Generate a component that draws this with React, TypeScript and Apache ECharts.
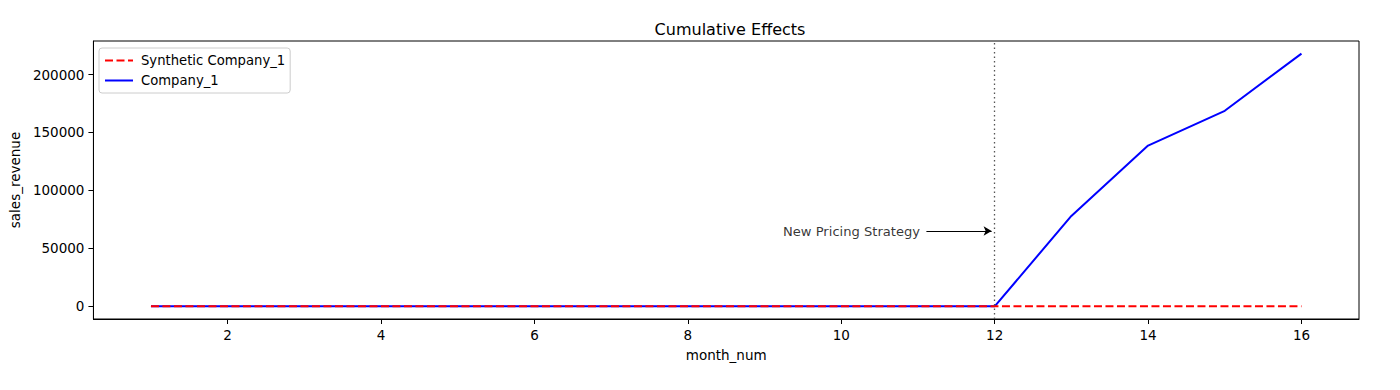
import React, { useEffect, useRef } from "react";
import * as echarts from "echarts";

const months = [1, 2, 3, 4, 5, 6, 7, 8, 9, 10, 11, 12, 13, 14, 15, 16];
const company1 = [0, 0, 0, 0, 0, 0, 0, 0, 0, 0, 0, 0, 78000, 138700, 168700, 218000];
const synthetic = [0, 0, 0, 0, 0, 0, 0, 0, 0, 0, 0, 0, 0, 0, 0, 0];
const xTicks = [2, 4, 6, 8, 10, 12, 14, 16];
const yTicks = [0, 50000, 100000, 150000, 200000];
const interventionMonth = 12;
const annotationText = "New Pricing Strategy";
const annotationPoint = [9.24, 65000];
const arrowFrom = [11.11, 65000];
const arrowTo = [11.96, 65000];

const FONT = "DejaVu Sans";

export default function App() {
  const ref = useRef<HTMLDivElement>(null);
  useEffect(() => {
    const chart = echarts.init(ref.current!, undefined, { renderer: "svg" });
    chart.setOption({
      animation: false,
      backgroundColor: "#fff",
      textStyle: { fontFamily: FONT },
      title: {
        text: "Cumulative Effects",
        left: 725,
        textAlign: "center",
        top: 16,
        textStyle: { fontFamily: FONT, fontSize: 16, fontWeight: "normal", color: "#000" },
      },
      legend: {
        left: 99,
        top: 48,
        orient: "vertical",
        data: ["Synthetic Company_1", "Company_1"],
        itemWidth: 28,
        itemHeight: 10,
        itemGap: 7,
        padding: [6, 5, 6, 5],
        borderColor: "#cccccc",
        borderWidth: 1,
        borderRadius: 3,
        itemStyle: { opacity: 0 },
        textStyle: { fontFamily: FONT, fontSize: 13.2, color: "#000", padding: [0, 0, 0, 3] },
      },
      grid: {
        left: 92,
        top: 41,
        width: 1267,
        height: 278,
        show: true,
        borderColor: "#000",
        borderWidth: 1,
        containLabel: false,
      },
      xAxis: {
        type: "value",
        min: 0.25,
        max: 16.75,
        name: "month_num",
        nameLocation: "middle",
        nameGap: 29,
        nameTextStyle: { fontFamily: FONT, fontSize: 13.5, color: "#000" },
        axisLine: { show: true, onZero: false, lineStyle: { color: "#000" } },
        axisTick: { show: true, length: 5, customValues: xTicks, lineStyle: { color: "#000" } },
        axisLabel: { customValues: xTicks, margin: 9, fontFamily: FONT, fontSize: 13.5, color: "#000" },
        splitLine: { show: false },
      },
      yAxis: {
        type: "value",
        min: -10900,
        max: 228900,
        name: "sales_revenue",
        nameLocation: "middle",
        nameGap: 58,
        nameTextStyle: { fontFamily: FONT, fontSize: 13.5, color: "#000", verticalAlign: "middle" },
        axisLine: { show: true, onZero: false, lineStyle: { color: "#000" } },
        axisTick: { show: true, length: 5, customValues: yTicks, lineStyle: { color: "#000" } },
        axisLabel: {
          customValues: yTicks,
          margin: 9,
          fontFamily: FONT,
          fontSize: 13.5,
          color: "#000",
          formatter: (v: number) => String(v),
        },
        splitLine: { show: false },
      },
      series: [
        {
          name: "Company_1",
          type: "line",
          data: months.map((m, i) => [m, company1[i]]),
          showSymbol: false,
          symbol: "none",
          z: 2,
          lineStyle: { color: "#0000ff", width: 2 },
          itemStyle: { color: "#0000ff" },
          markLine: {
            silent: true,
            symbol: ["none", "none"],
            label: { show: false },
            lineStyle: { color: "#555", type: [1.5, 3], width: 1.3 },
            data: [{ xAxis: interventionMonth }],
          },
        },
        {
          name: "Synthetic Company_1",
          type: "line",
          data: months.map((m, i) => [m, synthetic[i]]),
          showSymbol: false,
          symbol: "none",
          z: 3,
          lineStyle: { color: "#ff0000", width: 2, type: [8, 3.5] },
          itemStyle: { color: "#ff0000" },
        },
        {
          name: "annotation",
          type: "scatter",
          data: [annotationPoint],
          symbolSize: 0,
          silent: true,
          label: {
            show: true,
            position: "right",
            distance: 0,
            formatter: annotationText,
            fontFamily: FONT,
            fontSize: 13.1,
            color: "#000",
          },
          markLine: {
            silent: true,
            symbol: ["none", "arrow"],
            symbolSize: [7, 8],
            label: { show: false },
            lineStyle: { color: "#000", type: "solid", width: 1.2 },
            data: [[{ coord: arrowFrom }, { coord: arrowTo }]],
          },
        },
      ],
    });
    return () => chart.dispose();
  }, []);
  return (
    <div
      ref={ref}
      style={{ position: "fixed", left: 0, top: 0, width: 1400, height: 390 }}
    />
  );
}
